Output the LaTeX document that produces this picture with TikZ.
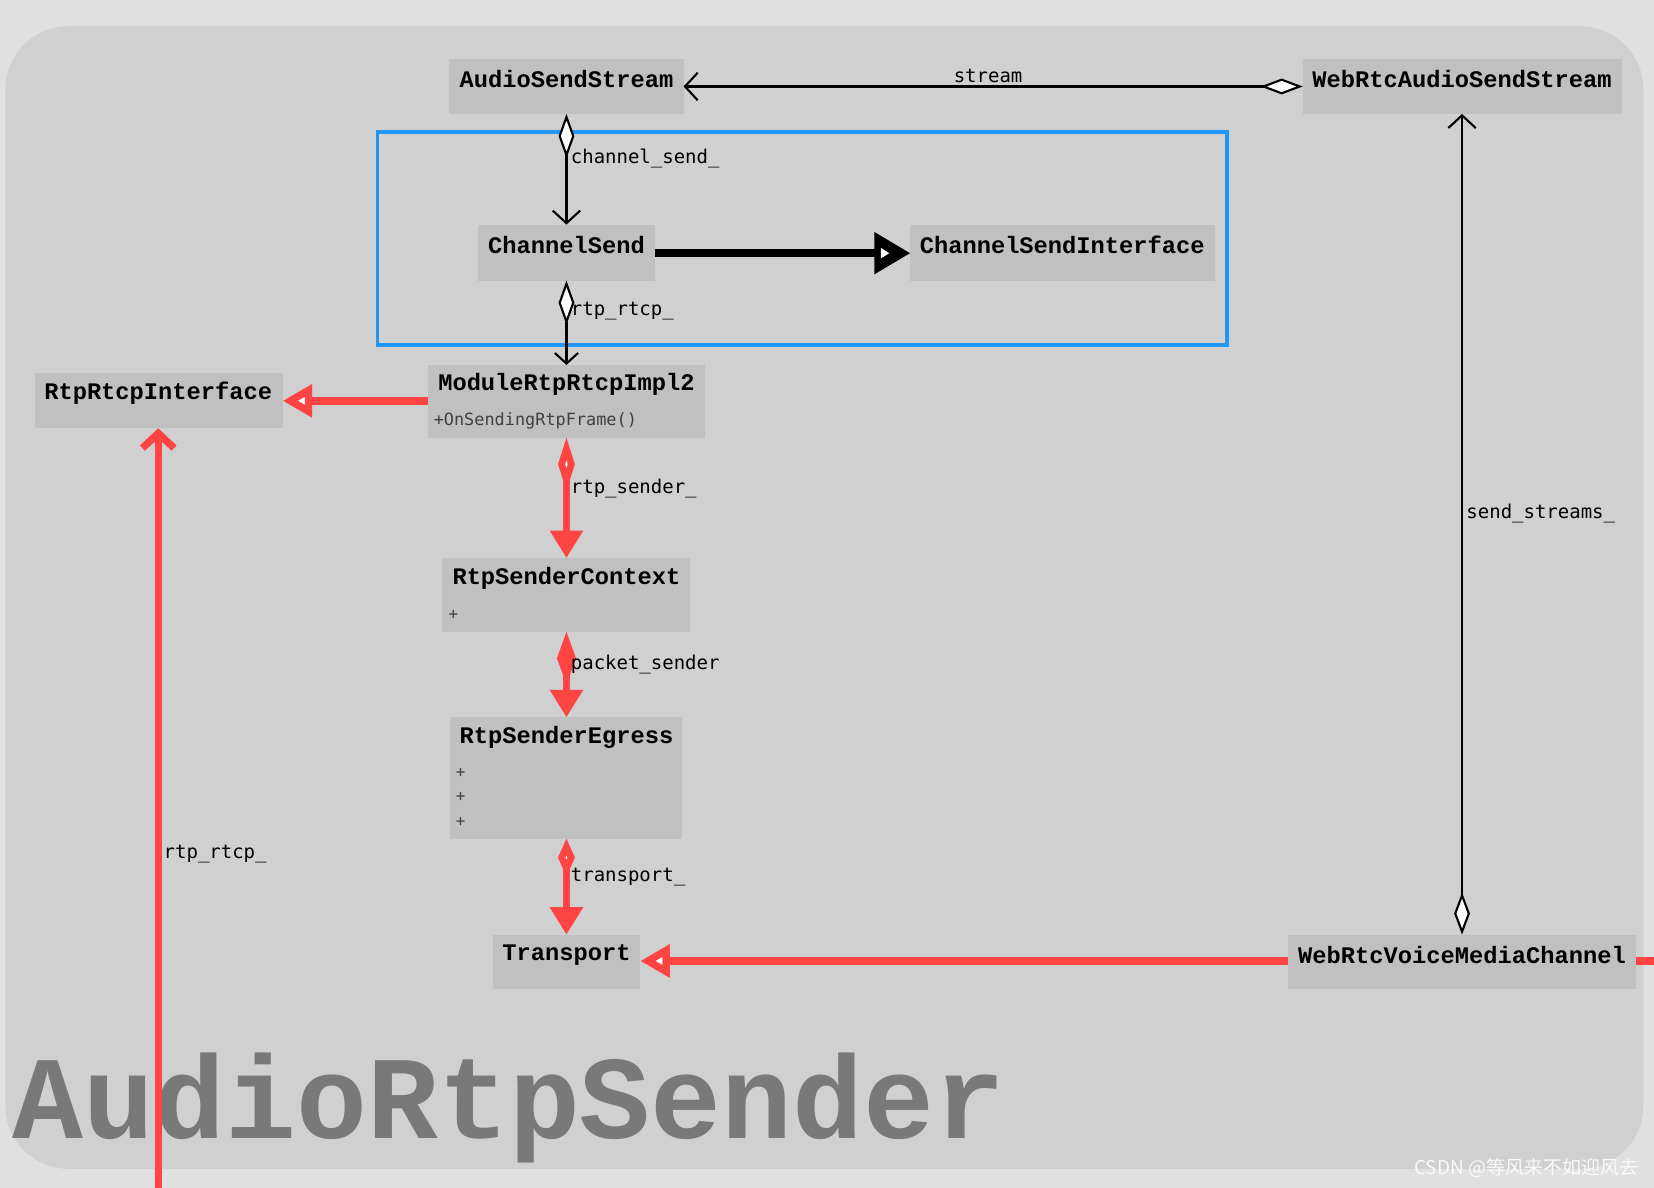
\documentclass[tikz,border=0pt]{standalone}
\usepackage{fontspec}
\setmonofont{Liberation Mono}
\newfontfamily\lblfont{DejaVu Sans Mono}
\newfontfamily\cjkfont{Noto Sans CJK SC}
\usetikzlibrary{arrows.meta}
\definecolor{bg}{HTML}{E0E0E0}
\definecolor{panel}{HTML}{D0D0D0}
\definecolor{boxc}{HTML}{C0C0C0}
\definecolor{redc}{HTML}{FF4444}
\definecolor{bluec}{HTML}{2196F3}
\tikzset{
 cls/.style={fill=boxc, inner sep=0pt, font=\ttfamily\bfseries\fontsize{22.5}{26}\selectfont},
 lbl/.style={font=\lblfont\fontsize{18}{20}\selectfont, anchor=west, inner sep=0pt},
 blk/.style={line width=2pt, black},
 rd/.style={line width=7pt, redc},
}
\begin{document}
\begin{tikzpicture}[x=1pt,y=-1pt]
\fill[bg] (0,0) rectangle (1568,1126);
\useasboundingbox (0,0) rectangle (1568,1126);
\fill[panel, rounded corners=60pt] (5,25) rectangle (1558,1108);
\node[font=\ttfamily\bfseries\fontsize{112}{112}\selectfont, text=gray!95!black, anchor=west, inner sep=0pt] (title) at (12,1050) {AudioRtpSender};
% boxes
\path[fill=boxc] (426,56) rectangle (648,108); \node[cls,fill=none] (ass) at (537,75) {AudioSendStream};
\coordinate (assT) at (537,108); \coordinate (assR) at (648,82);
\path[fill=boxc] (1235,56) rectangle (1538,108); \node[cls,fill=none] (wass) at (1386,75) {WebRtcAudioSendStream};
\coordinate (wassL) at (1235,82); \coordinate (wassB) at (1386,108);
\path[fill=boxc] (453,213) rectangle (621,266); \node[cls,fill=none] (cs) at (537,232) {ChannelSend};
\path[fill=boxc] (863,213) rectangle (1152,266); \node[cls,fill=none] (csi) at (1007,232) {ChannelSendInterface};
\path[fill=boxc] (406,346) rectangle (668,415); \node[cls,fill=none] (mod) at (537,364) {ModuleRtpRtcpImpl2};
\node[font=\lblfont\fontsize{16}{18}\selectfont, anchor=west, inner sep=0pt, text=black!75] (modm) at (411,399) {+OnSendingRtpFrame()};
\path[fill=boxc] (33,354) rectangle (268,406); \node[cls,fill=none] (rri) at (150,373) {RtpRtcpInterface};
\path[fill=boxc] (419,529) rectangle (654,599); \node[cls,fill=none] (rsc) at (537,548) {RtpSenderContext};
\node[lbl, text=black!75, font=\lblfont\fontsize{15}{15}\selectfont] (rscp) at (425,583) {+};
\path[fill=boxc] (427,680) rectangle (647,795); \node[cls,fill=none] (rse) at (537,699) {RtpSenderEgress};
\node[lbl, text=black!75, font=\lblfont\fontsize{15}{15}\selectfont] (rsp1) at (432,733) {+};
\node[lbl, text=black!75, font=\lblfont\fontsize{15}{15}\selectfont] (rsp2) at (432,756) {+};
\node[lbl, text=black!75, font=\lblfont\fontsize{15}{15}\selectfont] (rsp3) at (432,779) {+};
\path[fill=boxc] (467,886) rectangle (607,938); \node[cls,fill=none] (tr) at (537,905) {Transport};
\path[fill=boxc] (1221,886) rectangle (1551,938); \node[cls,fill=none] (wvm) at (1386,905) {WebRtcVoiceMediaChannel};
% blue frame
\draw[bluec, line width=3.5pt] (358,125) rectangle (1163,327);
% coordinates
\coordinate (csT) at (537,213); \coordinate (csB) at (537,266); \coordinate (csR) at (621,240);
\coordinate (csiL) at (863,240);
\coordinate (modT) at (537,346); \coordinate (modB) at (537,415); \coordinate (modL) at (406,380);
\coordinate (rriR) at (268,380); \coordinate (rriB) at (150,406);
\coordinate (rscT) at (537,529); \coordinate (rscB) at (537,599);
\coordinate (rseT) at (537,680); \coordinate (rseB) at (537,795);
\coordinate (trT) at (537,886); \coordinate (trR) at (607,911);
\coordinate (wvmL) at (1221,911); \coordinate (wvmT) at (1386,886); \coordinate (wvmR) at (1551,911);
\coordinate (edgeR) at (1568,911); \coordinate (edgeB) at (150,1126);
% black connectors
\draw[blk, {Diamond[open,fill=white,length=40pt,width=15pt]}-{Straight Barb[length=12pt,width=26pt]}] (wassL) -- (assR);
\node[lbl] (lstream) at (904,72) {stream};
\draw[blk, {Diamond[open,fill=white,length=42pt,width=15pt]}-{Straight Barb[length=12pt,width=26pt]}] (assT) -- (csT);
\node[lbl] (lcs) at (541,150) {channel\_send\_};
\draw[black, line width=7pt, -{Triangle[length=34pt,width=38pt]}] (csR) -- (csiL);
\fill[white] (835,235) -- (843,240) -- (835,245) -- cycle;
\draw[blk, {Diamond[open,fill=white,length=42pt,width=15pt]}-{Straight Barb[length=10pt,width=22pt]}] (csB) -- (modT);
\node[lbl] (lrr) at (541,295) {rtp\_rtcp\_};
\draw[blk, {Diamond[open,fill=white,length=40pt,width=15pt]}-{Straight Barb[length=12pt,width=26pt]}] (wvmT) -- (wassB);
\node[lbl] (lss) at (1390,487) {send\_streams\_};
% red connectors
\draw[rd, -{Triangle[open,fill=white,length=28pt,width=30pt]}] (modL) -- (rriR);
\draw[rd, {Diamond[open,fill=white,length=50pt,width=16pt]}-{Triangle[length=26pt,width=30pt]}] (modB) -- (rscT);
\node[lbl] (lrs) at (541,463) {rtp\_sender\_};
\draw[rd, {Diamond[length=50pt,width=18pt]}-{Triangle[length=26pt,width=30pt]}] (rscB) -- (rseT);
\node[lbl] (lps) at (541,630) {packet\_sender};
\draw[rd, {Diamond[open,fill=white,length=36pt,width=16pt]}-{Triangle[length=26pt,width=30pt]}] (rseB) -- (trT);
\node[lbl] (ltr) at (541,831) {transport\_};
\draw[rd, -{Triangle[open,fill=white,length=28pt,width=30pt]}] (wvmL) -- (trR);
\draw[rd] (wvmR) -- (edgeR);
\draw[rd, -{Straight Barb[length=14pt,width=30pt]}] (edgeB) -- (rriB);
\node[lbl] (lrr2) at (155,810) {rtp\_rtcp\_};
\node[font=\cjkfont\fontsize{18}{18}\selectfont, text=white!95!gray, anchor=east, inner sep=0pt] (wm) at (1553,1107) {CSDN @等风来不如迎风去};
\end{tikzpicture}
\end{document}
